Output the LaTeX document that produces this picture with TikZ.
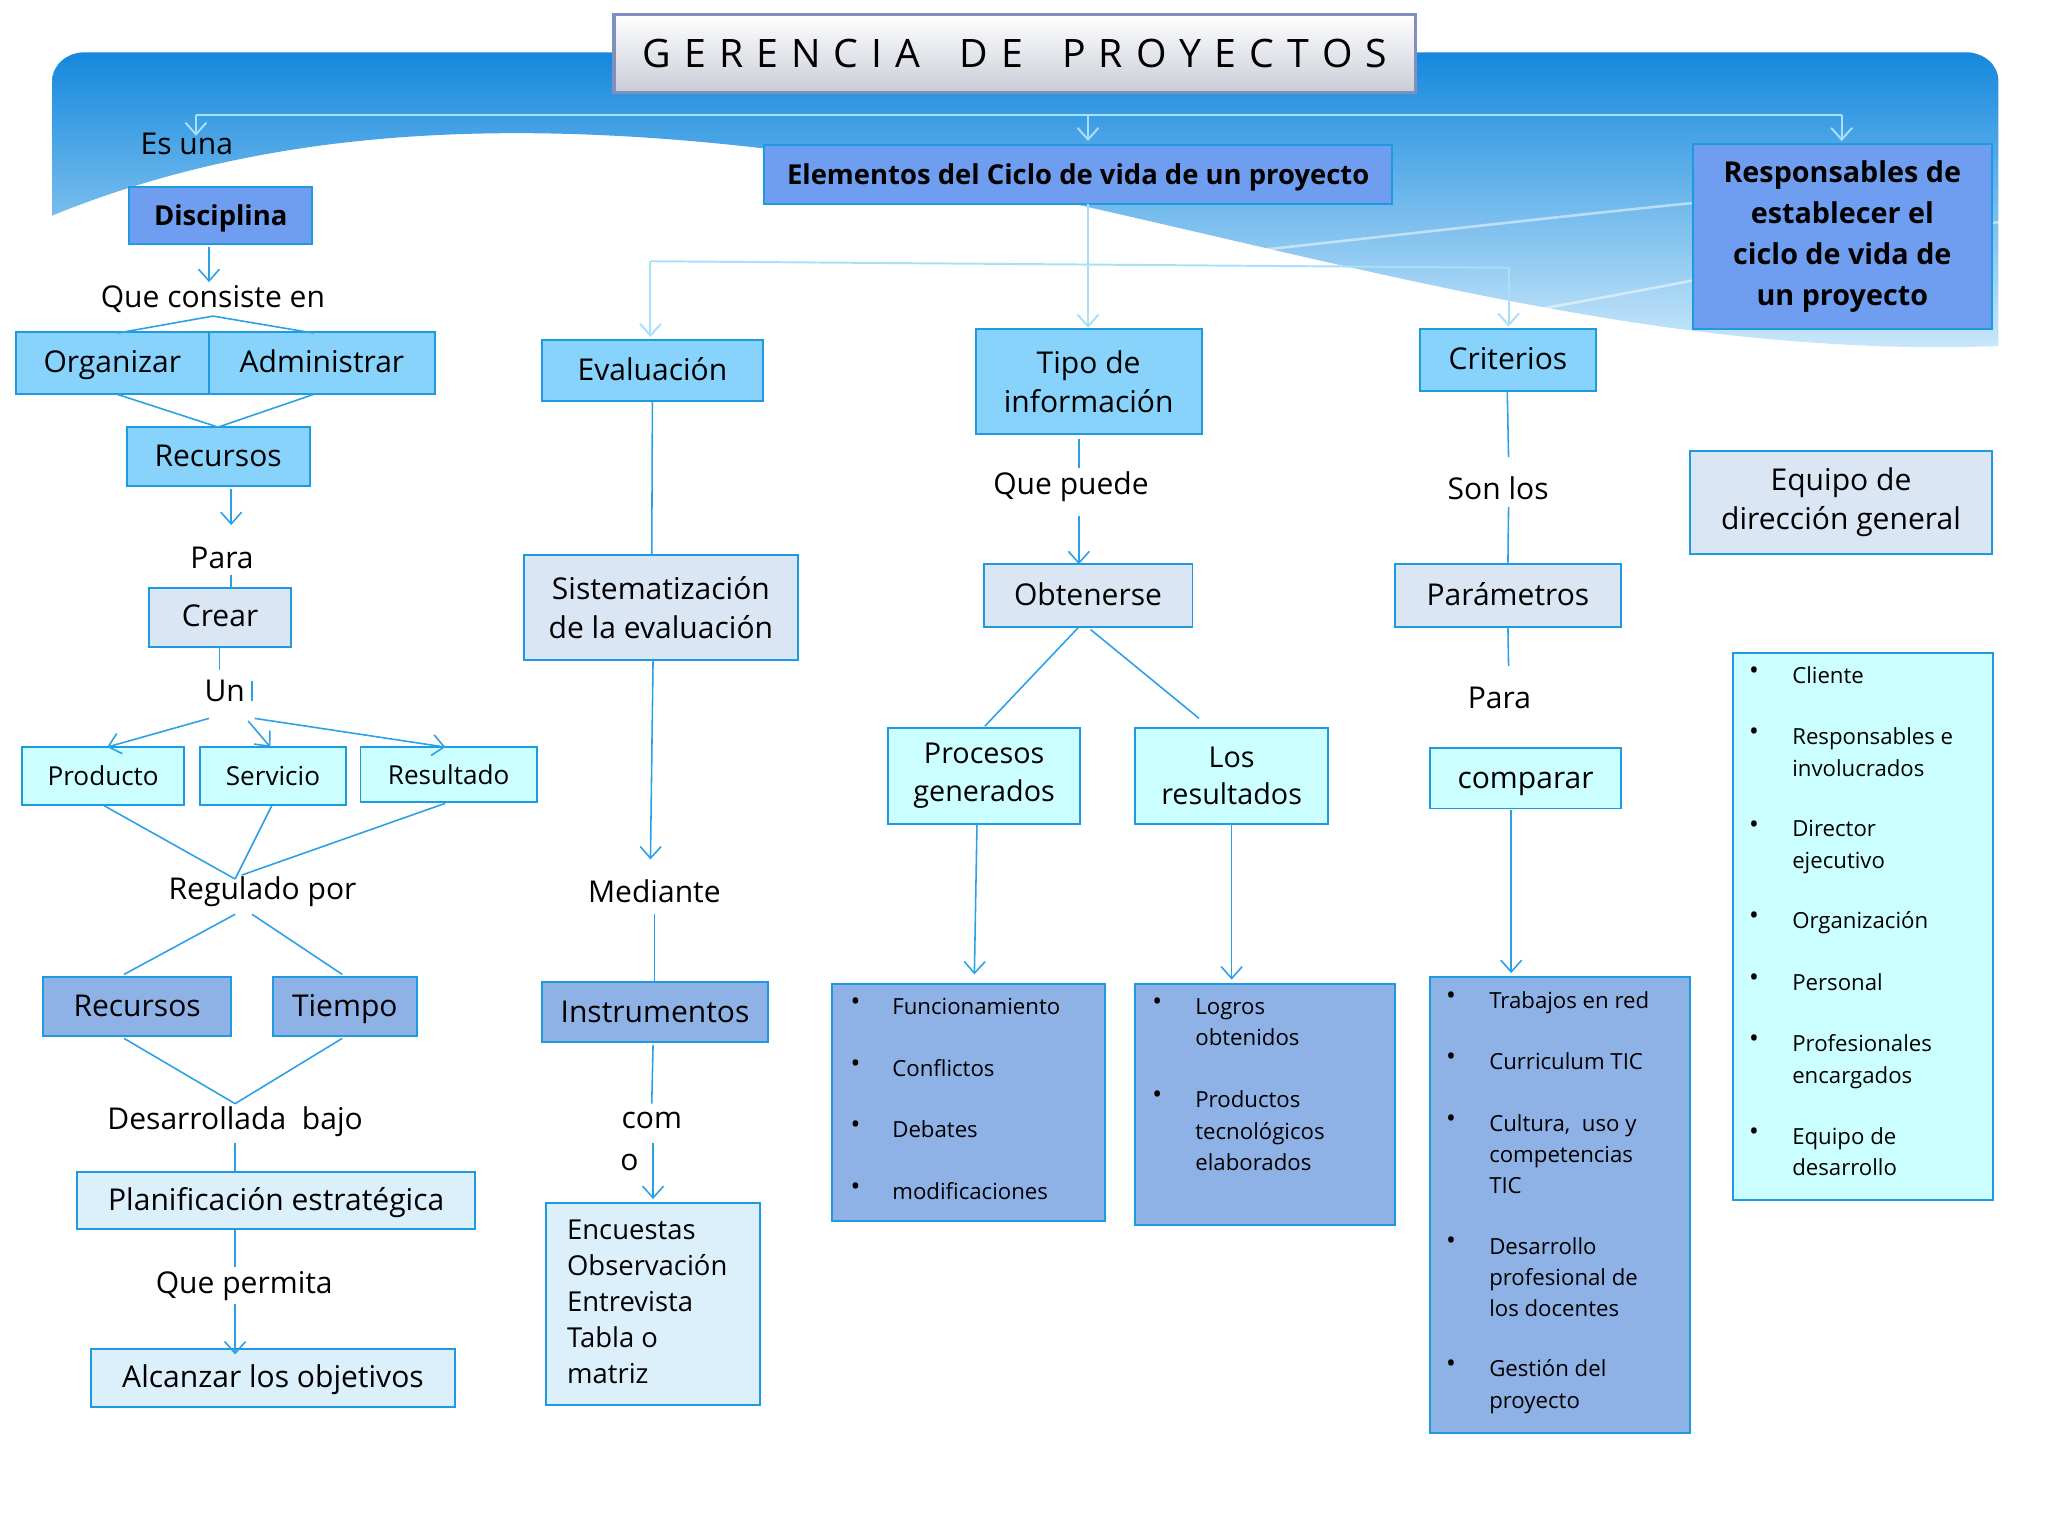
\documentclass[tikz,border=0pt]{standalone}
\usepackage{fontspec}
\setmainfont{Open Sans}
\usetikzlibrary{arrows.meta}
\definecolor{bord}{HTML}{1E9BE0}
\definecolor{ln}{HTML}{2AA0E6}
\definecolor{lnl}{HTML}{A8E0FA}
\definecolor{fA}{HTML}{6F9EF0}
\definecolor{fB}{HTML}{87D3FB}
\definecolor{fC}{HTML}{DBE6F5}
\definecolor{fD}{HTML}{CCFFFF}
\definecolor{fE}{HTML}{8EB1E6}
\definecolor{fF}{HTML}{DCF0FC}
\definecolor{sA}{HTML}{1488DD}
\definecolor{sB}{HTML}{D0EBFC}
\definecolor{tg}{HTML}{C9CDD8}
\newcommand{\blt}{\raisebox{1pt}{\fontsize{20}{20}\selectfont\textbullet}}
\begin{document}
\begin{tikzpicture}[x=1pt,y=-1pt,
 bx/.style={draw=bord,line width=1.5pt,inner sep=0pt,align=center,font=\fontsize{23}{30}\selectfont},
 s/.style={text height=19pt,text depth=4pt},
 tx/.style={font=\fontsize{23}{30}\selectfont,inner sep=1pt,align=center},
 li/.style={anchor=north west,inner sep=0pt,align=left,font=\fontsize{17}{24}\selectfont},
 c/.style={draw=ln,line width=1.2pt},
 a/.style={c,-{Straight Barb[length=9pt,width=16pt]}},
 cl/.style={draw=lnl,line width=1.5pt},
 al/.style={cl,-{Straight Barb[length=9pt,width=16pt]}}]
\useasboundingbox (0,0) rectangle (1568,1176);
% background swoosh
\shade[top color=sA,bottom color=sB,shading angle=0] (40,165) -- (40,62) to[out=90,in=180] (65,40) -- (1505,40) to[out=0,in=90] (1530,62) -- (1530,265) .. controls (1250,275) and (1000,190) .. (700,130) .. controls (400,80) and (200,100) .. (40,165) -- cycle;
\draw[white,opacity=.5,line width=2pt] (600,230) .. controls (900,200) and (1150,170) .. (1300,155);
\draw[white,opacity=.5,line width=2pt] (1160,240) .. controls (1300,215) and (1420,190) .. (1530,170);
% title
\node[draw={rgb,255:red,127;green,143;blue,192},line width=2.5pt,top color=white,bottom color=tg,minimum width=614pt,minimum height=60pt,inner sep=0pt,font=\fontsize{30}{36}\selectfont] (title) at (777,41) {G\,\,E\,\,R\,\,E\,\,N\,\,C\,\,I\,\,A\quad D\,\,E\quad P\,\,R\,\,O\,\,Y\,\,E\,\,C\,\,T\,\,O\,\,S};
% top distribution
\coordinate (t1) at (150,88); \coordinate (t3) at (1410,88);
\draw[cl] (t1) -- (t3);
\draw[al] (t1) -- (150,104);
\draw[al] (833,88) -- (833,108);
\draw[al] (t3) -- (1410,108);
% Column 1
\node[tx] (esuna) at (143,110) {Es una};
\node[bx,s,fill=fA,minimum width=140pt,minimum height=44pt,font=\fontsize{21}{28}\selectfont\bfseries] (disc) at (169,165) {Disciplina};
\node[tx] (qce) at (163,229) {Que consiste en};
\draw[a] (160,189) -- (160,216);
\node[bx,s,fill=fB,minimum width=148pt,minimum height=47pt] (org) at (86,278) {Organizar};
\node[bx,s,fill=fB,minimum width=173pt,minimum height=47pt] (adm) at (246.5,278) {Administrar};
\draw[c] (163,242) -- (90,255) (163,242) -- (240,255);
\node[bx,s,fill=fB,minimum width=140pt,minimum height=45pt] (rec) at (167,349.5) {Recursos};
\draw[c] (90,302) -- (167,327) (240,302) -- (167,327);
\draw[a] (177,374) -- (177,402);
\node[tx] (para1) at (170,427) {Para};
\node[bx,s,fill=fC,minimum width=109pt,minimum height=45pt] (crear) at (168.5,472.5) {Crear};
\draw[c] (177,440) -- (177,450);
\draw[c] (168,495) -- (168,513);
\node[tx] (un) at (172,529) {Un};
\draw[c] (193,521) -- (193,537);
\node[bx,s,fill=fD,minimum width=124pt,minimum height=44pt,font=\fontsize{20}{26}\selectfont] (prod) at (79,594) {Producto};
\node[bx,s,fill=fD,minimum width=112pt,minimum height=44pt,font=\fontsize{20}{26}\selectfont] (serv) at (209,594) {Servicio};
\node[bx,s,fill=fD,minimum width=135pt,minimum height=42pt,font=\fontsize{20}{26}\selectfont] (res) at (343.5,593) {Resultado};
\draw[a] (160,550) -- (82,572);
\draw[a] (190,552) -- (207,572);
\draw[a] (195,550) -- (341,572);
\node[tx] (reg) at (201,683) {Regulado por};
\draw[c] (80,617) -- (180,673) (208,617) -- (180,673) (341,615) -- (185,670);
\node[bx,s,fill=fE,minimum width=144pt,minimum height=45pt] (rec2) at (105,770.5) {Recursos};
\node[bx,s,fill=fE,minimum width=110pt,minimum height=45pt] (tiem) at (264,770.5) {Tiempo};
\draw[c] (180,700) -- (95,746) (193,700) -- (262,746);
\node[tx] (des) at (180,859) {Desarrollada\ \ bajo};
\draw[c] (95,795) -- (180,845) (262,795) -- (180,845);
\node[bx,s,fill=fF,minimum width=305pt,minimum height=44pt] (plan) at (211.5,919) {Planificación estratégica};
\draw[c] (180,875) -- (180,897);
\node[tx] (qp) at (187,985) {Que permita};
\draw[c] (180,941) -- (180,970);
\node[bx,s,fill=fF,minimum width=278pt,minimum height=44pt] (alc) at (209,1055) {Alcanzar los objetivos};
\draw[a] (180,998) -- (180,1037);
% Column 2
\node[bx,s,fill=fA,minimum width=481pt,minimum height=45pt,font=\fontsize{21}{28}\selectfont\bfseries] (elem) at (825.5,133.5) {Elementos del Ciclo de vida de un proyecto};
\node[bx,s,fill=fB,minimum width=169pt,minimum height=47pt] (eval) at (499.5,283.5) {Evaluación};
\draw[cl] (498,200) -- (1155,205);
\draw[al] (498,200) -- (498,258);
\draw[al] (1155,205) -- (1155,250);
\draw[al] (833,156) -- (833,251);
\node[bx,fill=fC,minimum width=210pt,minimum height=80pt] (sist) at (506,465) {Sistematización\\de la evaluación};
\draw[c] (eval.south) -- (499,425);
\node[tx] (med) at (501,682) {Mediante};
\draw[a] (500,505) -- (498,658);
\node[bx,s,fill=fE,minimum width=173pt,minimum height=46pt] (inst) at (501.5,775) {Instrumentos};
\draw[c] (501,700) -- (501,752);
\node[tx] (como) at (499,858) {com};
\node[tx] (o) at (482,890) {o};
\draw[c] (500,800) -- (499,845);
\draw[a] (500,875) -- (500,918);
\node[bx,fill=fF,minimum width=164pt,minimum height=155pt] (enc) at (500,998.5) {};
\node[anchor=north west,inner sep=0pt,align=left,font=\fontsize{21}{27.5}\selectfont] (enctxt) at (434,934) {Encuestas\\Observación\\Entrevista\\Tabla o\\matriz};
% Column 3
\node[bx,fill=fB,minimum width=173pt,minimum height=80pt] (tipo) at (833.5,292) {Tipo de\\información};
\node[tx] (qpu) at (820,373) {Que puede};
\draw[c] (826,336) -- (826,358);
\draw[a] (826,395) -- (826,432);
\node[bx,s,fill=fC,minimum width=160pt,minimum height=48pt] (obt) at (833,456) {Obtenerse};
\node[bx,fill=fD,minimum width=147pt,minimum height=74pt,font=\fontsize{22}{29}\selectfont] (proc) at (753.5,594) {Procesos\\generados};
\node[bx,fill=fD,minimum width=148pt,minimum height=74pt,font=\fontsize{22}{29}\selectfont] (losr) at (943,594) {Los\\resultados};
\draw[c] (826,480) -- (754,556) (835,482) -- (918,550);
\node[bx,fill=fE,minimum width=209pt,minimum height=182pt] (l1) at (741.5,844) {};
\node[bx,fill=fE,minimum width=199pt,minimum height=185pt] (l2) at (968.5,845.5) {};
\draw[a] (748,631) -- (746,746);
\draw[a] (943,631) -- (943,750);
\foreach \y/\t in {773/Funcionamiento,820/Conflictos,867/Debates,914/modificaciones}{
 \node[li] at (651,\y-9) {\blt}; \node[li] at (683,\y-9) {\t};}
\foreach \y/\t in {773/{Logros\\obtenidos},844/{Productos\\tecnológicos\\elaborados}}{
 \node[li] at (882,\y-9) {\blt}; \node[li] at (915,\y-9) {\t};}
% Column 4
\node[bx,s,fill=fB,minimum width=135pt,minimum height=47pt] (crit) at (1154.5,275.5) {Criterios};
\node[tx] (son) at (1147,374) {Son los};
\draw[c] (1154,300) -- (1155,350);
\node[bx,s,fill=fC,minimum width=173pt,minimum height=48pt] (par) at (1154.5,456) {Parámetros};
\draw[c] (1155,388) -- (par.north);
\node[tx] (para2) at (1148,534) {Para};
\draw[c] (par.south) -- (1155,510);
\node[bx,s,fill=fD,minimum width=146pt,minimum height=46pt] (comp) at (1168,596) {comparar};
\node[bx,fill=fE,minimum width=199pt,minimum height=349pt] (l3) at (1194.5,922.5) {};
\draw[a] (1157,620) -- (1157,745);
\foreach \y/\t in {768/{Trabajos en red},815/{Curriculum TIC},862/{Cultura,\ \ uso y\\competencias\\TIC},956/{Desarrollo\\profesional de\\los docentes},1050/{Gestión del\\proyecto}}{
 \node[li] at (1107,\y-9) {\blt}; \node[li] at (1140,\y-9) {\t};}
% Column 5
\node[bx,fill=fA,minimum width=229pt,minimum height=142pt,font=\fontsize{22}{31.5}\selectfont\bfseries] (resp) at (1410.5,181) {Responsables de\\establecer el\\ciclo de vida de\\un proyecto};
\node[bx,fill=fC,minimum width=231pt,minimum height=79pt] (equ) at (1409.5,384.5) {Equipo de\\dirección general};
\node[bx,fill=fD,minimum width=199pt,minimum height=419pt] (l4) at (1426.5,709.5) {};
\foreach \y/\t in {519/Cliente,566/{Responsables e\\involucrados},637/{Director\\ejecutivo},707/Organización,754/Personal,801/{Profesionales\\encargados},872/{Equipo de\\desarrollo}}{
 \node[li] at (1339,\y-9) {\blt}; \node[li] at (1372,\y-9) {\t};}
\end{tikzpicture}
\end{document}
